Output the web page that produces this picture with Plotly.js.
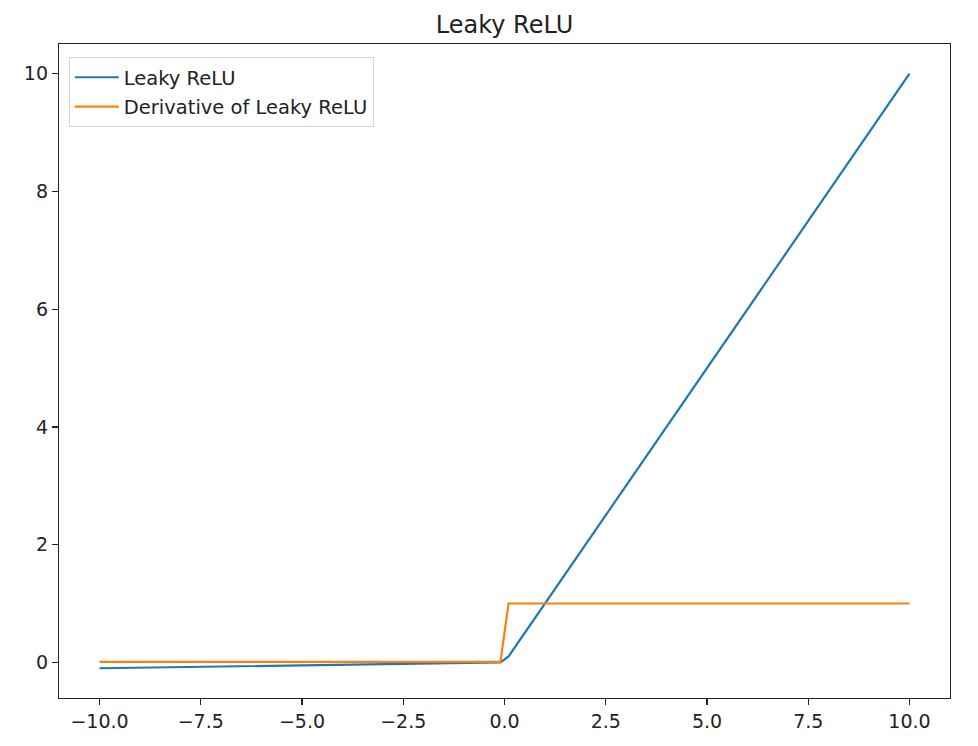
<!DOCTYPE html>
<html>
<head>
<meta charset="utf-8">
<script src="https://cdn.plot.ly/plotly-3.0.1.min.js"></script>
<style>html,body{margin:0;padding:0;background:#fff;}#chart{width:978px;height:746px;}</style>
</head>
<body>
<div id="chart"></div>
<script>
// Values (straight segments with a kink near x = 0)
const xValues = [-10, -0.1, 0.1, 10];
const leakyRelu = [-0.1, -0.001, 0.1, 10];
const derivative = [0.01, 0.01, 1, 1];
const xTicks = [-10, -7.5, -5, -2.5, 0, 2.5, 5, 7.5, 10];
const xTickText = ['\u221210.0', '\u22127.5', '\u22125.0', '\u22122.5', '0.0', '2.5', '5.0', '7.5', '10.0'];
const yTicks = [0, 2, 4, 6, 8, 10];

const font = 'DejaVu Sans, sans-serif';
const traces = [
  {x: xValues, y: leakyRelu, mode: 'lines', name: 'Leaky ReLU', legendgroup: 'a', line: {color: '#1f77b4', width: 2.2}},
  {x: xValues, y: derivative, mode: 'lines', name: 'Derivative of Leaky ReLU', legendgroup: 'b', line: {color: '#ff7f0e', width: 2.2}}
];
const axisCommon = {
  showgrid: false, zeroline: false, showline: true, linecolor: '#222', linewidth: 1.2,
  mirror: true, ticks: 'outside', ticklen: 6, tickwidth: 1.2, tickcolor: '#222',
  tickfont: {family: font, size: 19, color: '#222'}
};
const layout = {
  width: 978, height: 746,
  margin: {l: 59, r: 28, t: 44, b: 48},
  paper_bgcolor: '#fff', plot_bgcolor: '#fff',
  title: {text: 'Leaky ReLU', font: {family: font, size: 24, color: '#222'}, xref: 'paper', x: 0.5, xanchor: 'center', y: 0.967, yanchor: 'middle'},
  xaxis: Object.assign({}, axisCommon, {range: [-11, 11], tickvals: xTicks, ticktext: xTickText}),
  yaxis: Object.assign({}, axisCommon, {range: [-0.605, 10.505], tickvals: yTicks, ticktext: yTicks.map(String)}),
  showlegend: true,
  legend: {x: 0.011, y: 0.98, xanchor: 'left', yanchor: 'top', bgcolor: 'rgba(255,255,255,0.8)',
    bordercolor: '#d5d5d5', borderwidth: 1, font: {family: font, size: 19.5, color: '#222'},
    traceorder: 'grouped', tracegroupgap: 1, itemwidth: 44}
};
Plotly.newPlot('chart', traces, layout, {displayModeBar: false, staticPlot: true});
</script>
</body>
</html>
